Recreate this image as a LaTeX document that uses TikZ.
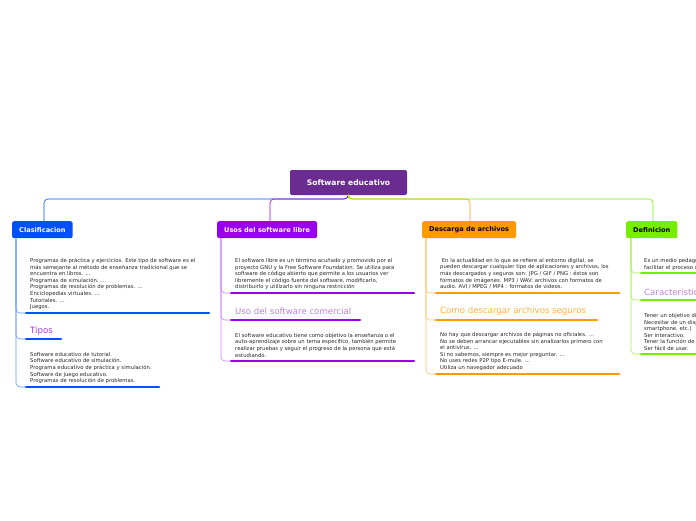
\documentclass[tikz,border=0pt]{standalone}
\usepackage{fontspec}
\setmainfont{DejaVu Sans}
\begin{document}
\begin{tikzpicture}[x=1pt,y=-1pt,
  mainbox/.style={rounded corners=2pt,text=white,font=\bfseries\fontsize{7.6}{8}\selectfont,minimum height=25pt,minimum width=117pt},
  topic/.style={rounded corners=2pt,font=\bfseries\fontsize{6.6}{7}\selectfont,minimum height=17pt,inner xsep=7pt,anchor=north west},
  body/.style={anchor=north west,align=left,inner sep=0pt,font=\fontsize{5.3}{6.6}\selectfont,text=black!85},
  sub/.style={anchor=west,inner sep=0pt,font=\fontsize{8.6}{9}\selectfont},
  uline/.style={line width=2.6pt,line cap=round},
  conn/.style={line width=0.6pt,rounded corners=4pt}]
\definecolor{cB}{HTML}{0050FF}\definecolor{cP}{HTML}{9900EE}
\definecolor{cO}{HTML}{FF9900}\definecolor{cG}{HTML}{77EE00}
\definecolor{cR}{HTML}{6A2C91}\definecolor{cS}{HTML}{C080D8}
\useasboundingbox (0,0) rectangle (696,520);
\clip (0,0) rectangle (696,520);
% root and connectors
\node[mainbox,fill=cR] (root) at (348.5,182.5) {Software educativo};
\node[topic,fill=cB,text=white] (c1) at (12,221) {Clasificacion};
\node[topic,fill=cP,text=white] (c2) at (217,221) {Usos del software libre};
\node[topic,fill=cO,text=black] (c3) at (422,221) {Descarga de archivos};
\node[topic,fill=cG,text=black] (c4) at (626,221) {Definicion};
\draw[conn,cB] (root.south) -- (348,199) -| (c1.north -| 44,0);
\draw[conn,cP] (root.south) -- (348,199) -| (c2.north -| 270,0);
\draw[conn,cO] (root.south) -- (348,199) -| (c3.north -| 470,0);
\draw[conn,cG] (root.south) -- (348,199) -| (c4.north -| 653,0);
\draw[conn,cG!60!yellow] (348,195) -- (348,199);
% Clasificacion
\node[body] (t1) at (30,258) {Programas de práctica y ejercicios. Este tipo de software es el\\más semejante al método de enseñanza tradicional que se\\encuentra en libros. ...\\Programas de simulación. ...\\Programas de resolución de problemas. ...\\Enciclopedias virtuales. ...\\Tutoriales. ...\\Juegos.};
\node[sub,text=cP!80!white] (s1) at (30,331) {Tipos};
\node[body] (t2) at (30,352) {Software educativo de tutorial.\\Software educativo de simulación.\\Programa educativo de práctica y simulación.\\Software de juego educativo.\\Programas de resolución de problemas.};
\coordinate (u1a) at (26,313); \coordinate (u1b) at (209,313);
\coordinate (u2a) at (26,339); \coordinate (u2b) at (61,339);
\coordinate (u3a) at (26,387); \coordinate (u3b) at (159,387);
\draw[uline,cB] (u1a) -- (u1b); \draw[uline,cB] (u2a) -- (u2b); \draw[uline,cB] (u3a) -- (u3b);
\foreach \u in {u1a,u2a,u3a} \draw[conn,cB!60] (c1.south -| 16,0) |- (\u);
% Usos
\node[body] (t3) at (235,258) {El software libre es un término acuñado y promovido por el\\proyecto GNU y la Free Software Foundation. Se utiliza para\\software de código abierto que permite a los usuarios ver\\libremente el código fuente del software, modificarlo,\\distribuirlo y utilizarlo sin ninguna restricción};
\node[sub,text=cS] (s2) at (235,311) {Uso del software comercial};
\node[body] (t4) at (235,333) {El software educativo tiene como objetivo la enseñanza o el\\auto-aprendizaje sobre un tema específico, también permite\\realizar pruebas y seguir el progreso de la persona que está\\estudiando.};
\coordinate (v1a) at (231,293); \coordinate (v1b) at (414,293);
\coordinate (v2a) at (231,320); \coordinate (v2b) at (360,320);
\coordinate (v3a) at (231,361); \coordinate (v3b) at (414,361);
\draw[uline,cP] (v1a) -- (v1b); \draw[uline,cP] (v2a) -- (v2b); \draw[uline,cP] (v3a) -- (v3b);
\foreach \u in {v1a,v2a,v3a} \draw[conn,cP!50] (c2.south -| 221,0) |- (\u);
% Descarga
\node[body] (t5) at (440,258) {\ En la actualidad en lo que se refiere al entorno digital, se\\pueden descargar cualquier tipo de aplicaciones y archivos, los\\más descargados y seguros son: JPG / GIF / PNG : éstos son\\formatos de imágenes. MP3 / WAV: archivos con formatos de\\audio. AVI / MPEG / MP4 : formatos de videos.};
\node[sub,text=cO!75!white] (s3) at (440,311) {Como descargar archivos seguros};
\node[body] (t6) at (440,332) {No hay que descargar archivos de páginas no oficiales. ...\\No se deben arrancar ejecutables sin analizarlos primero con\\el antivirus. ...\\Si no sabemos, siempre es mejor preguntar. ...\\No uses redes P2P tipo E-mule. ...\\Utiliza un navegador adecuado};
\coordinate (w1a) at (436,293); \coordinate (w1b) at (619,293);
\coordinate (w2a) at (436,320); \coordinate (w2b) at (597,320);
\coordinate (w3a) at (436,374); \coordinate (w3b) at (619,374);
\draw[uline,cO] (w1a) -- (w1b); \draw[uline,cO] (w2a) -- (w2b); \draw[uline,cO] (w3a) -- (w3b);
\foreach \u in {w1a,w2a,w3a} \draw[conn,cO!60] (c3.south -| 426,0) |- (\u);
% Definicion
\node[body] (t7) at (644,258) {Es un medio pedagógico que tiene como objetivo\\facilitar el proceso de enseñanza};
\node[sub,text=cS] (s4) at (644,292) {Caracteristicas};
\node[body] (t8) at (644,313) {Tener un objetivo didáctico.\\Necesitar de un dispositivo digital (ordenador,\\smartphone, etc.)\\Ser interactivo.\\Tener la función de enseñar.\\Ser fácil de usar.};
\coordinate (x1a) at (641,273); \coordinate (x1b) at (700,273);
\coordinate (x2a) at (641,300); \coordinate (x2b) at (700,300);
\coordinate (x3a) at (641,354); \coordinate (x3b) at (700,354);
\draw[uline,cG] (x1a) -- (x1b); \draw[uline,cG] (x2a) -- (x2b); \draw[uline,cG] (x3a) -- (x3b);
\foreach \u in {x1a,x2a,x3a} \draw[conn,cG!70] (c4.south -| 631,0) |- (\u);
\end{tikzpicture}
\end{document}
